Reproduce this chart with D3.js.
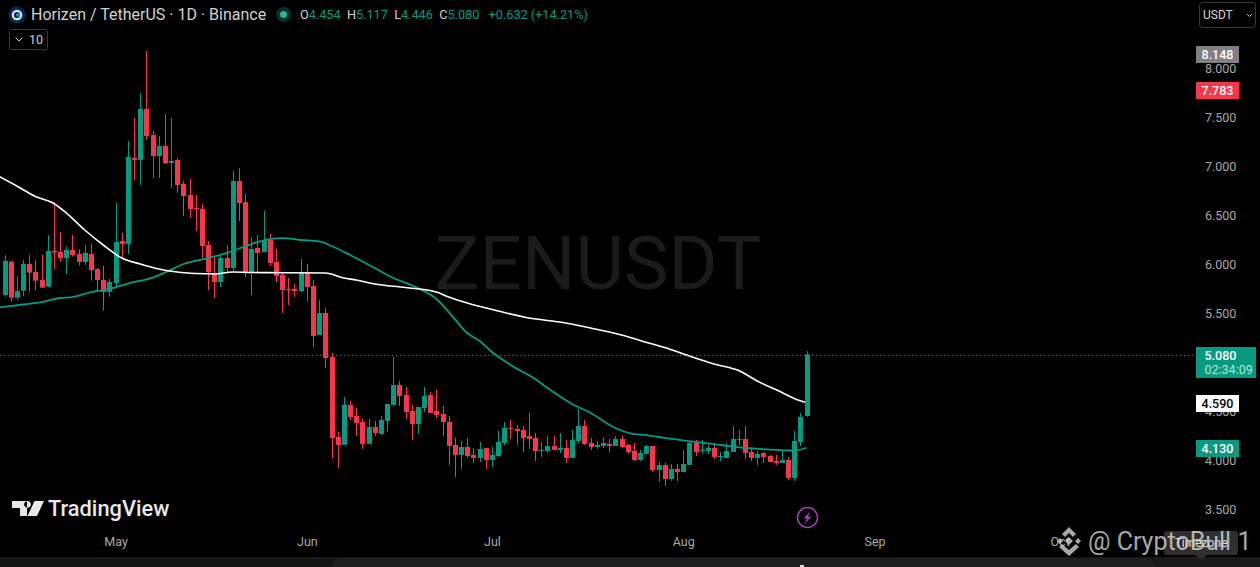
<!DOCTYPE html>
<html>
<head>
<meta charset="utf-8">
<title>ZENUSDT</title>
<script src="https://cdn.jsdelivr.net/npm/d3@7"></script>
<style>
  html, body { margin: 0; padding: 0; background: #000; overflow: hidden; }
  svg { display: block; }
  text { font-family: Roboto, "Liberation Sans", sans-serif; }
  .axis path, .axis line { display: none; }
  .axis text { fill: #a9a9a9; font-size: 12.5px; font-family: Roboto, "Liberation Sans", sans-serif; }
</style>
</head>
<body>
<div id="chart"></div>
<script>
// daily candles, first one is 13 Apr
const firstDay = new Date(Date.UTC(2025, 3, 13));

const opens = [
  5.689, 6.029, 5.662, 5.733, 6.005, 5.924, 5.842, 5.774, 6.138, 6.128, 6.066, 6.148, 6.107, 6.026, 6.107, 5.954,
  5.842, 5.720, 5.811, 6.240, 6.209, 7.087, 7.067, 7.587, 7.322, 7.107, 7.209, 7.036, 7.067, 6.822, 6.709, 6.577,
  6.566, 6.199, 5.913, 5.821, 6.066, 5.964, 6.852, 6.637, 5.913, 6.168, 6.127, 6.250, 6.025, 5.893, 5.750, 5.750,
  5.729, 5.916, 5.780, 5.280, 5.505, 5.057, 4.240, 4.159, 4.567, 4.454, 4.393, 4.169, 4.342, 4.271, 4.403, 4.567,
  4.771, 4.669, 4.506, 4.373, 4.536, 4.669, 4.506, 4.475, 4.393, 4.159, 4.057, 4.138, 4.057, 4.026, 4.128, 4.006,
  4.046, 4.179, 4.332, 4.322, 4.312, 4.250, 4.230, 4.097, 4.097, 4.148, 4.108, 4.128, 4.026, 4.199, 4.352, 4.179,
  4.138, 4.148, 4.169, 4.148, 4.220, 4.159, 4.097, 4.006, 4.067, 4.148, 3.903, 3.954, 3.812, 3.914, 3.883, 3.954,
  4.179, 4.097, 4.097, 4.128, 4.036, 4.026, 4.087, 4.210, 4.220, 4.087, 4.026, 4.077, 4.046, 3.995, 3.975, 4.006,
  3.822, 4.189, 4.454
];
const highs = [
  6.097, 6.039, 5.883, 6.046, 6.097, 6.046, 6.097, 6.301, 6.635, 6.332, 6.182, 6.301, 6.155, 6.199, 6.216, 5.964,
  5.985, 5.852, 6.628, 6.322, 7.260, 7.495, 7.750, 8.179, 7.362, 7.311, 7.536, 7.495, 7.087, 6.852, 6.873, 6.709,
  6.618, 6.239, 6.086, 6.107, 6.199, 6.954, 6.984, 6.719, 6.280, 6.301, 6.546, 6.311, 6.158, 5.923, 5.862, 5.801,
  6.056, 6.005, 5.842, 5.637, 5.556, 5.097, 4.291, 4.648, 4.608, 4.536, 4.424, 4.424, 4.403, 4.454, 4.577, 5.057,
  4.812, 4.750, 4.567, 4.546, 4.750, 4.699, 4.720, 4.557, 4.454, 4.230, 4.199, 4.230, 4.128, 4.189, 4.128, 4.138,
  4.301, 4.393, 4.414, 4.363, 4.352, 4.485, 4.281, 4.189, 4.250, 4.250, 4.281, 4.210, 4.312, 4.526, 4.414, 4.230,
  4.199, 4.240, 4.220, 4.250, 4.250, 4.169, 4.179, 4.108, 4.159, 4.148, 3.985, 3.975, 3.965, 3.965, 4.108, 4.199,
  4.210, 4.210, 4.159, 4.179, 4.087, 4.179, 4.352, 4.312, 4.352, 4.138, 4.097, 4.087, 4.057, 4.057, 4.108, 4.036,
  4.301, 4.485, 5.117
];
const lows = [
  5.672, 5.621, 5.638, 5.679, 5.723, 5.740, 5.757, 5.767, 5.954, 6.029, 5.903, 6.080, 5.988, 5.995, 5.835, 5.720,
  5.529, 5.672, 5.757, 6.066, 6.107, 6.862, 6.811, 7.271, 6.883, 6.883, 7.026, 6.781, 6.733, 6.495, 6.475, 6.342,
  6.066, 5.739, 5.658, 5.770, 5.923, 5.933, 6.444, 5.872, 5.688, 5.913, 6.127, 5.984, 5.821, 5.505, 5.586, 5.668,
  5.719, 5.627, 5.158, 5.280, 4.944, 4.026, 3.924, 4.159, 4.414, 4.250, 4.118, 4.169, 4.250, 4.261, 4.291, 4.557,
  4.557, 4.424, 4.210, 4.271, 4.495, 4.485, 4.434, 4.250, 3.954, 3.832, 3.914, 4.026, 3.975, 3.985, 3.914, 3.934,
  4.036, 4.159, 4.220, 4.159, 4.087, 4.118, 3.995, 4.036, 4.077, 4.108, 4.077, 3.975, 4.026, 4.179, 4.159, 4.108,
  4.118, 4.128, 4.087, 4.148, 4.128, 4.067, 3.995, 3.995, 4.067, 3.883, 3.781, 3.740, 3.791, 3.791, 3.883, 3.954,
  4.046, 4.067, 4.067, 4.016, 3.995, 4.026, 4.087, 4.159, 4.016, 3.995, 3.954, 3.975, 3.985, 3.954, 3.975, 3.801,
  3.791, 4.148, 4.446
];
const closes = [
  6.036, 5.662, 5.730, 6.005, 5.917, 5.835, 5.764, 6.138, 6.121, 6.066, 6.148, 6.097, 6.026, 6.118, 5.944, 5.842,
  5.720, 5.822, 6.230, 6.209, 7.097, 7.067, 7.587, 7.311, 7.107, 7.209, 7.032, 7.056, 6.811, 6.699, 6.566, 6.566,
  6.189, 5.923, 5.821, 6.066, 5.964, 6.852, 6.627, 5.913, 6.158, 6.117, 6.250, 6.015, 5.882, 5.739, 5.739, 5.729,
  5.923, 5.770, 5.270, 5.505, 5.046, 4.230, 4.159, 4.567, 4.444, 4.383, 4.169, 4.342, 4.281, 4.414, 4.577, 4.771,
  4.659, 4.495, 4.373, 4.546, 4.659, 4.485, 4.465, 4.393, 4.148, 4.057, 4.138, 4.046, 4.026, 4.118, 4.006, 4.057,
  4.189, 4.332, 4.322, 4.301, 4.230, 4.220, 4.097, 4.108, 4.148, 4.108, 4.128, 4.026, 4.210, 4.352, 4.169, 4.138,
  4.159, 4.179, 4.148, 4.220, 4.138, 4.087, 4.006, 4.077, 4.148, 3.903, 3.954, 3.812, 3.914, 3.883, 3.965, 4.179,
  4.087, 4.108, 4.128, 4.036, 4.046, 4.097, 4.220, 4.220, 4.077, 4.026, 4.067, 4.036, 3.985, 3.975, 4.006, 3.822,
  4.199, 4.444, 5.080
];

// slow and fast moving averages, read at these day offsets
const slowDays = [-1, 2, 5, 8, 10, 13, 16, 19, 22, 25, 28, 31, 34, 37, 40, 46, 52, 55, 57, 60, 65, 70, 72, 75, 80, 85, 90, 95, 100, 103, 107, 111, 115, 119, 122, 126, 128, 130];
const slowValues = [6.903, 6.801, 6.694, 6.622, 6.526, 6.352, 6.199, 6.066, 6.005, 5.954, 5.923, 5.908, 5.903, 5.923, 5.918, 5.916, 5.913, 5.862, 5.842, 5.801, 5.765, 5.719, 5.668, 5.607, 5.526, 5.454, 5.413, 5.352, 5.281, 5.225, 5.153, 5.066, 4.985, 4.918, 4.811, 4.694, 4.633, 4.590];
const fastDays = [-1, 3, 6, 9, 11, 14, 17, 20, 24, 26, 29, 33, 36, 40, 43, 45, 48, 51, 53, 56, 60, 63, 67, 70, 72, 75, 77, 79, 82, 86, 88, 92, 95, 99, 102, 104, 107, 112, 116, 120, 124, 128, 130];
const fastValues = [5.561, 5.592, 5.617, 5.658, 5.668, 5.719, 5.750, 5.806, 5.867, 5.918, 6.005, 6.066, 6.117, 6.209, 6.260, 6.270, 6.250, 6.235, 6.189, 6.097, 5.964, 5.862, 5.760, 5.648, 5.515, 5.301, 5.219, 5.107, 4.975, 4.832, 4.740, 4.577, 4.485, 4.332, 4.270, 4.260, 4.230, 4.189, 4.158, 4.128, 4.112, 4.102, 4.130];

// 5.000 sits under the last price tag, so it is left out
const priceTicks = [8, 7.5, 7, 6.5, 6, 5.5, 4.5, 4, 3.5];
const monthTicks = [new Date(Date.UTC(2025, 4, 1)), new Date(Date.UTC(2025, 5, 1)), new Date(Date.UTC(2025, 6, 1)), new Date(Date.UTC(2025, 7, 1)), new Date(Date.UTC(2025, 8, 1)), new Date(Date.UTC(2025, 9, 1))];
const lastPrice = 5.080;
const highTag = 8.148;
const lowerTag = 7.783;

const legendParts = [["O", "4.454"], ["H", "5.117"], ["L", "4.446"], ["C", "5.080"]];

const width = 1260, height = 567;
const green = "#089981", red = "#f7364b";

const svg = d3.select("#chart").append("svg")
  .attr("width", width)
  .attr("height", height)
  .style("background", "#000");

const dayAt = i => d3.utcDay.offset(firstDay, i);

const x = d3.scaleUtc()
  .domain([firstDay, monthTicks[5]])
  .range([4.5, 1059.6]);

const y = d3.scaleLinear()
  .domain([3.5, 8])
  .range([509.5, 68.5]);

// watermark
svg.append("text")
  .attr("x", 598).attr("y", 289)
  .attr("text-anchor", "middle")
  .attr("fill", "#1b1b1b")
  .style("font-size", "75px")
  .text("ZENUSDT");

// last price line
svg.append("line")
  .attr("x1", 0).attr("x2", 1196)
  .attr("y1", Math.round(y(lastPrice)) + 0.5).attr("y2", Math.round(y(lastPrice)) + 0.5)
  .attr("stroke", green)
  .attr("stroke-dasharray", "1 3");

// candles
const candles = svg.append("g").selectAll("g")
  .data(d3.range(opens.length))
  .enter().append("g");

candles.append("line")
  .attr("x1", i => Math.round(x(dayAt(i))) + 0.5)
  .attr("x2", i => Math.round(x(dayAt(i))) + 0.5)
  .attr("y1", i => y(highs[i]))
  .attr("y2", i => y(lows[i]))
  .attr("stroke", i => closes[i] >= opens[i] ? green : red);

candles.append("rect")
  .attr("x", i => Math.round(x(dayAt(i))) - 2)
  .attr("y", i => y(Math.max(opens[i], closes[i])))
  .attr("width", 5)
  .attr("height", i => Math.max(1, Math.abs(y(opens[i]) - y(closes[i]))))
  .attr("fill", i => closes[i] >= opens[i] ? green : red);

// moving averages
const maLine = d3.line()
  .x(d => x(dayAt(d[0])))
  .y(d => y(d[1]))
  .curve(d3.curveMonotoneX);

svg.append("path")
  .attr("d", maLine(d3.zip(fastDays, fastValues)))
  .attr("fill", "none")
  .attr("stroke", green)
  .attr("stroke-width", 1.8);

svg.append("path")
  .attr("d", maLine(d3.zip(slowDays, slowValues)))
  .attr("fill", "none")
  .attr("stroke", "#fff")
  .attr("stroke-width", 1.6);

// last candle sits on top of the slow line end
svg.append("rect")
  .attr("x", Math.round(x(dayAt(130))) - 2)
  .attr("y", y(closes[130]))
  .attr("width", 5)
  .attr("height", y(opens[130]) - y(closes[130]))
  .attr("fill", green);

// axes
svg.append("g")
  .attr("class", "axis")
  .attr("transform", "translate(1205,0)")
  .call(d3.axisRight(y).tickValues(priceTicks).tickSize(0).tickPadding(0).tickFormat(d3.format(".3f")));

svg.append("g")
  .attr("class", "axis")
  .attr("transform", "translate(0,537)")
  .call(d3.axisBottom(x).tickValues(monthTicks).tickSize(0).tickPadding(0).tickFormat(d3.utcFormat("%b")));

// price tags
const priceTag = (value, bg, fg, h) => {
  const t = svg.append("g").attr("transform", "translate(1196," + (Math.round(y(value)) - 8) + ")");
  t.append("rect").attr("width", 43).attr("height", h).attr("fill", bg);
  t.append("text").attr("x", 21.5).attr("y", 13).attr("text-anchor", "middle")
    .attr("fill", fg).style("font-size", "12.5px").style("font-weight", 500)
    .text(d3.format(".3f")(value));
  return t;
};
priceTag(highTag, "#808080", "#fff", 17);
priceTag(lowerTag, red, "#fff", 17);
priceTag(slowValues[slowValues.length - 1], "#fff", "#000", 17);
priceTag(fastValues[fastValues.length - 1], green, "#fff", 17);

const lastTag = svg.append("g").attr("transform", "translate(1196,347)");
lastTag.append("rect").attr("width", 60).attr("height", 31).attr("fill", green);
lastTag.append("text").attr("x", 8.5).attr("y", 13).attr("fill", "#fff")
  .style("font-size", "12.5px").style("font-weight", 500).text(d3.format(".3f")(lastPrice));
lastTag.append("text").attr("x", 8.5).attr("y", 26.5).attr("fill", "#b6e3d9")
  .style("font-size", "12.5px").text("02:34:09");

// currency button
svg.append("rect")
  .attr("x", 1199.5).attr("y", 2.5).attr("width", 56).attr("height", 25).attr("rx", 3)
  .attr("fill", "#000").attr("stroke", "#3a3a3a");
svg.append("text").attr("x", 1203).attr("y", 19).attr("fill", "#d8d8d8")
  .style("font-size", "12px").text("USDT");
svg.append("path").attr("d", "M1247 14l2.5 2.5 2.5-2.5")
  .attr("fill", "none").attr("stroke", "#bbb");

// header
const icon = svg.append("g").attr("transform", "translate(17,15)");
icon.append("circle").attr("r", 8.5).attr("fill", "#0e2a52");
icon.append("circle").attr("r", 4.2).attr("fill", "none").attr("stroke", "#d5e4ee").attr("stroke-width", 2.2);
icon.append("circle").attr("r", 1.8).attr("cx", 1).attr("fill", "#26a69a");

svg.append("text").attr("x", 31).attr("y", 20).attr("fill", "#d1d1d1")
  .style("font-size", "16px").text("Horizen / TetherUS · 1D · Binance");

svg.append("circle").attr("cx", 283.5).attr("cy", 14.5).attr("r", 7.5).attr("fill", "#0b2f29");
svg.append("circle").attr("cx", 283.5).attr("cy", 14.5).attr("r", 3.5).attr("fill", "#2fb39b");

const legend = svg.append("text").attr("x", 300).attr("y", 19).style("font-size", "12.7px");
legendParts.forEach(p => {
  legend.append("tspan").attr("fill", "#d1d1d1").text(p[0]);
  legend.append("tspan").attr("fill", green).attr("dx", "0").text(p[1]);
  legend.append("tspan").attr("fill", green).text("  ").attr("xml:space", "preserve");
});
legend.append("tspan").attr("fill", green).attr("dx", "3").text("+0.632 (+14.21%)");

// collapsed indicators button
svg.append("rect")
  .attr("x", 9.5).attr("y", 29.5).attr("width", 38).attr("height", 20).attr("rx", 2)
  .attr("fill", "#000").attr("stroke", "#3a3a3a");
svg.append("path").attr("d", "M15.5 37.5l3.5 3.5 3.5-3.5").attr("fill", "none").attr("stroke", "#ccc");
svg.append("text").attr("x", 29).attr("y", 44).attr("fill", "#cfcfcf")
  .style("font-size", "12.5px").text("10");

// tradingview logo
svg.append("path")
  .attr("d", "M12 501h15v15h-7v-8h-8zM34.5 501h9.5l-7 15h-9.5zM27.5 501a3.4 3.4 0 1 0 0.01 0z")
  .attr("fill", "#e8e8e8");
svg.append("text").attr("x", 48).attr("y", 515.5).attr("fill", "#e8e8e8")
  .style("font-size", "21.8px").style("font-weight", 500).text("TradingView");

// lightning icon
svg.append("circle").attr("cx", 807.5).attr("cy", 517.5).attr("r", 10)
  .attr("fill", "none").attr("stroke", "#a23db5").attr("stroke-width", 1.5);
svg.append("path").attr("d", "M810.5 511l-7 7.5h3.5l-2.5 5.5 7-7.5h-3.5z").attr("fill", "#a23db5");

// bottom strip
svg.append("rect").attr("x", 0).attr("y", 558).attr("width", width).attr("height", 9).attr("fill", "#131313");
svg.append("line").attr("x1", 0).attr("x2", width).attr("y1", 558).attr("y2", 558).attr("stroke", "#2b2b2b");
svg.append("rect").attr("x", 333).attr("y", 559).attr("width", 822).attr("height", 12).attr("rx", 6).attr("fill", "#1e1e1e");
svg.append("rect").attr("x", 1155).attr("y", 559).attr("width", 105).attr("height", 8).attr("fill", "#191919");
svg.append("rect").attr("x", 800).attr("y", 565).attr("width", 4).attr("height", 2).attr("fill", "#ddd");

// tooltip
svg.append("rect").attr("x", 1164).attr("y", 531).attr("width", 74).attr("height", 24).attr("rx", 3).attr("fill", "#2f2f2f");
svg.append("path").attr("d", "M1195 555h12l-6 5z").attr("fill", "#2f2f2f");
svg.append("text").attr("x", 1201).attr("y", 547).attr("text-anchor", "middle").attr("fill", "#e0e0e0")
  .style("font-size", "12px").text("Timezone");

// repost stamp
const stamp = svg.append("g").attr("opacity", 0.78);
stamp.append("path")
  .attr("d", "M1069 527l7 7-3 3-4-4-4 4-3-3zM1060 538l3 3-3 3-3-3zM1078 538l3 3-3 3-3-3zM1069 537l4 4-4 4-4-4zM1062 544l7 6 7-6 3 3-10 9-10-9z")
  .attr("fill", "#d8d8d8");
stamp.append("text").attr("x", 1088).attr("y", 550).attr("fill", "#d8d8d8")
  .style("font-size", "25px").text("@ CryptoBull 1");
</script>
</body>
</html>
